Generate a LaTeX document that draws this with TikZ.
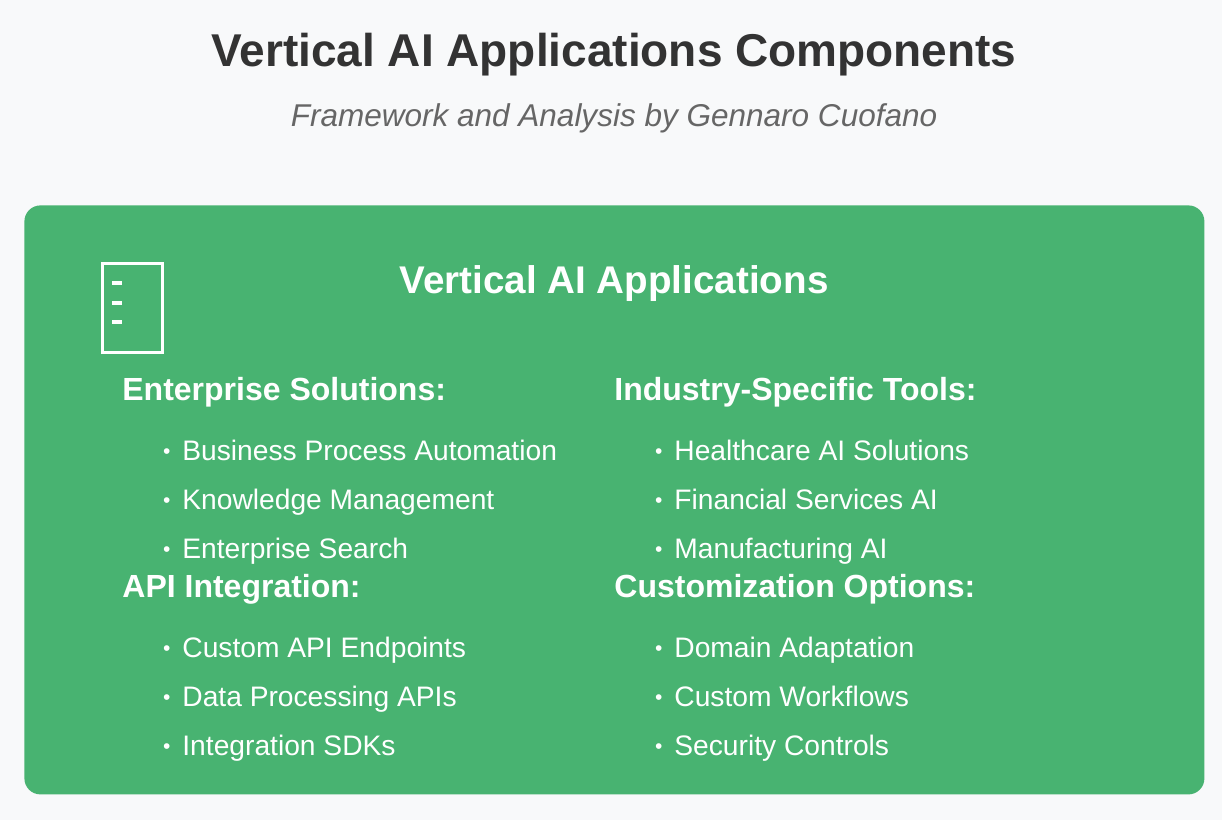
\documentclass[tikz,border=0pt]{standalone}
\usepackage{fontspec}
\setmainfont{Liberation Sans}
\usepackage{tikz}
\definecolor{pagebg}{HTML}{F8F9FA}
\definecolor{boxgreen}{HTML}{48B371}
\definecolor{titlegray}{HTML}{333333}
\definecolor{subgray}{HTML}{666666}
\tikzset{
  txt/.style={inner sep=0pt,anchor=base west,text=white},
  head/.style={txt,font=\fontsize{16}{19}\selectfont\bfseries},
  item/.style={txt,font=\fontsize{14.1}{17}\selectfont},
}
\newcommand{\itm}[1]{\llap{\raisebox{0.6pt}{\fontsize{10.5}{10}\selectfont\textbullet}\hspace{6pt}}#1}
\begin{document}
\begin{tikzpicture}[x=0.5pt,y=-0.5pt]
\fill[pagebg] (0,0) rectangle (1222,820);
\useasboundingbox (0,0) rectangle (1222,820);

\node (T0)[inner sep=0pt,anchor=base,text=titlegray,font=\fontsize{23}{28}\selectfont\bfseries] at (614,66.5) {Vertical AI Applications Components};
\node (T1)[inner sep=0pt,anchor=base,text=subgray,font=\fontsize{15.76}{18}\selectfont\itshape] at (614,126) {Framework and Analysis by Gennaro Cuofano};

\node (B0)[fill=boxgreen,rounded corners=8pt,inner sep=0pt,minimum width=590pt,minimum height=294.5pt,anchor=north west] at (24,205) {};
\node (T2)[inner sep=0pt,anchor=base,text=white,font=\fontsize{19.3}{23}\selectfont\bfseries] at (614,293) {Vertical AI Applications};

% icon
\draw[white,line width=1.5pt] (102,263) rectangle (162,352);
\draw[white,line width=2pt] (112,283)--(122,283);
\draw[white,line width=2pt] (112,302.5)--(122,302.5);
\draw[white,line width=2pt] (112,322)--(122,322);

\node (E0)[head] at (122,400.5) {Enterprise Solutions:};
\node (E1)[item] at (182,460) {\itm{Business Process Automation}};
\node (E2)[item] at (182,509) {\itm{Knowledge Management}};
\node (E3)[item] at (182,558) {\itm{Enterprise Search}};

\node (I0)[head] at (614,400.5) {Industry-Specific Tools:};
\node (I1)[item] at (674,460) {\itm{Healthcare AI Solutions}};
\node (I2)[item] at (674,509) {\itm{Financial Services AI}};
\node (I3)[item] at (674,558) {\itm{Manufacturing AI}};

\node (A0)[head] at (122,597.5) {API Integration:};
\node (A1)[item] at (182,657) {\itm{Custom API Endpoints}};
\node (A2)[item] at (182,706) {\itm{Data Processing APIs}};
\node (A3)[item] at (182,755) {\itm{Integration SDKs}};

\node (C0)[head] at (614,597.5) {Customization Options:};
\node (C1)[item] at (674,657) {\itm{Domain Adaptation}};
\node (C2)[item] at (674,706) {\itm{Custom Workflows}};
\node (C3)[item] at (674,755) {\itm{Security Controls}};
\end{tikzpicture}
\end{document}
